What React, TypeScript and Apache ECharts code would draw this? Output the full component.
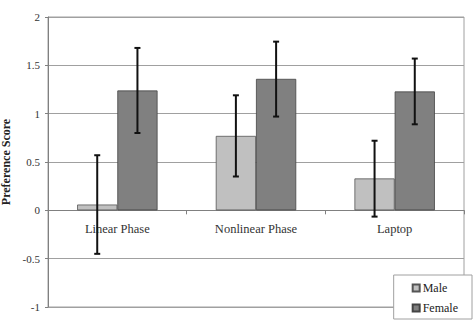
import React, { useEffect, useRef } from "react";
import * as echarts from "echarts";

const categories = ["Linear Phase", "Nonlinear Phase", "Laptop"];
const maleValues = [0.06, 0.77, 0.33];
const femaleValues = [1.24, 1.36, 1.23];
const maleLow = [-0.45, 0.35, -0.065];
const maleHigh = [0.57, 1.19, 0.72];
const femaleLow = [0.8, 0.97, 0.89];
const femaleHigh = [1.68, 1.745, 1.57];

const FONT = "'Liberation Serif', 'Times New Roman', serif";
const CAT_GAP = 0.42;
const Y_MIN = -1;
const Y_MAX = 2;
const GRID_TOP = 17;
const GRID_BOTTOM = 15;
const HEIGHT = 322;
const PLOT_H = HEIGHT - GRID_TOP - GRID_BOTTOM;
const ZERO_OFFSET = -PLOT_H * (0 - Y_MIN) / (Y_MAX - Y_MIN);

function errorSeries(low: number[], high: number[], side: number) {
  return {
    type: "custom",
    name: side < 0 ? "errMale" : "errFemale",
    silent: true,
    z: 10,
    data: categories.map((_, i) => [i, low[i], high[i]]),
    encode: { x: 0, y: [1, 2] },
    renderItem: (params: any, api: any) => {
      const idx = api.value(0);
      const lo = api.coord([idx, api.value(1)]);
      const hi = api.coord([idx, api.value(2)]);
      const band = api.size([1, 0])[0];
      const pair = band * (1 - CAT_GAP);
      const x = lo[0] + side * pair / 4;
      const cap = 3;
      const style = { stroke: "#111", lineWidth: 2 };
      return {
        type: "group",
        children: [
          { type: "line", shape: { x1: x, y1: lo[1], x2: x, y2: hi[1] }, style },
          { type: "line", shape: { x1: x - cap, y1: lo[1], x2: x + cap, y2: lo[1] }, style },
          { type: "line", shape: { x1: x - cap, y1: hi[1], x2: x + cap, y2: hi[1] }, style },
        ],
      };
    },
  };
}

export default function App() {
  const ref = useRef<HTMLDivElement>(null);
  useEffect(() => {
    if (!ref.current) return;
    const chart = echarts.init(ref.current, undefined, { renderer: "svg" });
    chart.setOption({
      animation: false,
      backgroundColor: "#fff",
      textStyle: { fontFamily: FONT },
      grid: {
        left: 48,
        right: 10,
        top: GRID_TOP,
        bottom: GRID_BOTTOM,
        containLabel: false,
        outerBoundsMode: "none",
        show: true,
        borderColor: "#a0a0a0",
        borderWidth: 1,
      },
      legend: {
        data: ["Male", "Female"],
        orient: "vertical",
        right: 2,
        bottom: 3,
        backgroundColor: "#fff",
        borderColor: "#a0a0a0",
        borderWidth: 1,
        borderRadius: 0,
        padding: [7, 14, 5, 18],
        itemGap: 8,
        itemWidth: 7,
        itemHeight: 7,
        icon: "rect",
        textStyle: {
          fontFamily: FONT,
          fontSize: 12,
          color: "#222",
          padding: [0, 0, 0, -2],
        },
      },
      xAxis: {
        type: "category",
        data: categories,
        position: "bottom",
        offset: ZERO_OFFSET,
        axisLine: { onZero: false, lineStyle: { color: "#808080", width: 1 } },
        axisTick: { show: true, length: 4, lineStyle: { color: "#808080" } },
        axisLabel: { fontFamily: FONT, fontSize: 12.5, color: "#333", margin: 12 },
      },
      yAxis: {
        type: "value",
        min: Y_MIN,
        max: Y_MAX,
        interval: 0.5,
        name: "Preference Score",
        nameLocation: "middle",
        nameGap: 31,
        nameTextStyle: { fontFamily: FONT, fontSize: 12, fontWeight: "bold", color: "#222" },
        axisLine: { show: true, lineStyle: { color: "#808080" } },
        axisTick: { show: true, length: 3, lineStyle: { color: "#808080" } },
        axisLabel: { fontFamily: FONT, fontSize: 11, color: "#333", margin: 8 },
        splitLine: { show: true, lineStyle: { color: "#a0a0a0", width: 1 } },
      },
      series: [
        {
          name: "Male",
          type: "bar",
          data: maleValues,
          barGap: "0%",
          barCategoryGap: "42%",
          itemStyle: { color: "#c0c0c0", borderColor: "#555", borderWidth: 0.8 },
        },
        {
          name: "Female",
          type: "bar",
          data: femaleValues,
          barGap: "0%",
          barCategoryGap: "42%",
          itemStyle: { color: "#808080", borderColor: "#444", borderWidth: 0.8 },
        },
        errorSeries(maleLow, maleHigh, -1),
        errorSeries(femaleLow, femaleHigh, 1),
      ],
    });
    return () => chart.dispose();
  }, []);
  return <div ref={ref} style={{ width: 474, height: 322, position: "absolute", left: 0, top: 0 }} />;
}
